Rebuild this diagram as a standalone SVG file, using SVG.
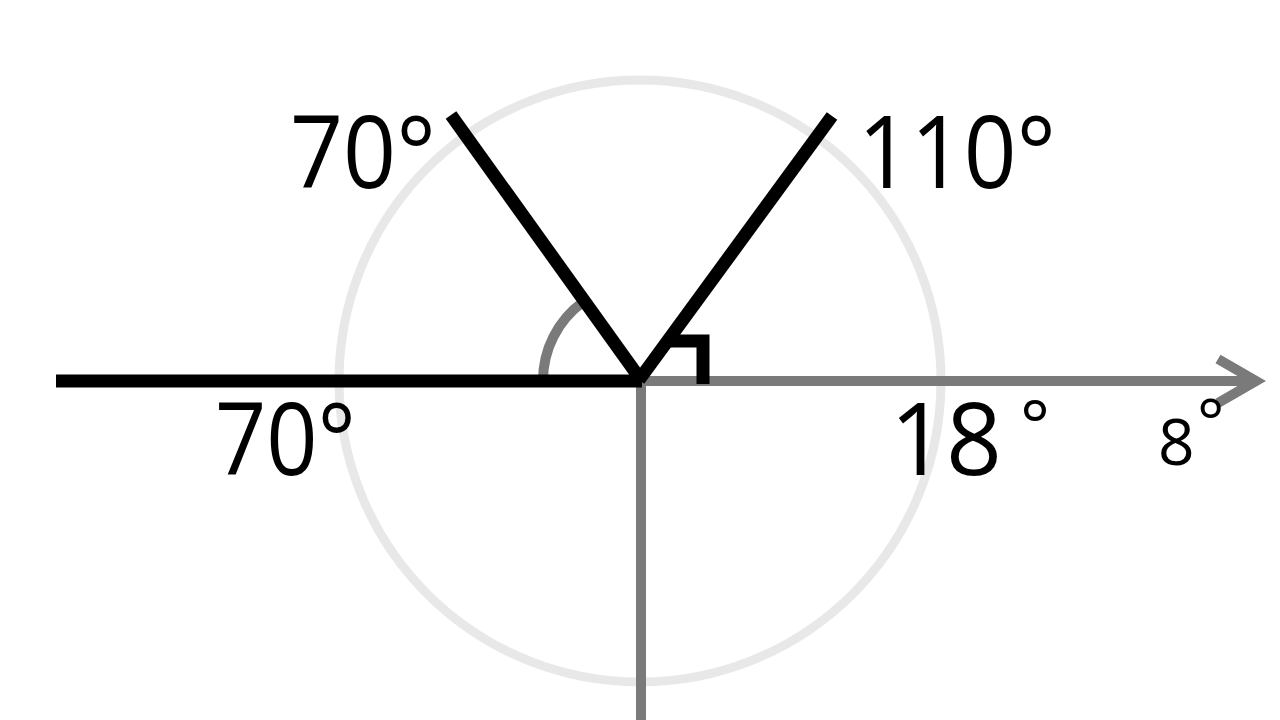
<svg xmlns="http://www.w3.org/2000/svg" width="1280" height="720" viewBox="0 0 1280 720">
<style>
.lbl{font-family:"Open Sans","Liberation Sans",sans-serif;fill:#000;font-size:100px}
.sm{font-size:64px}
.deg{font-size:70px}
.blk{stroke:#000;stroke-width:13;fill:none}
.gry{stroke:#7a7a7a;stroke-width:10;fill:none}
</style>
<rect width="1280" height="720" fill="#fff"/>
<g id="circle"><circle cx="640" cy="381" r="301" fill="none" stroke="#e8e8e8" stroke-width="9"/></g>
<g id="connectors">
<line class="gry" x1="641" y1="381" x2="641" y2="720"/>
<line class="gry" x1="640" y1="381" x2="1254" y2="381"/>
<polyline class="gry" points="1218,359 1256,381 1218,403" stroke-linejoin="miter"/>
<path class="gry" stroke-width="8" d="M543,381 A97,97 0 0 1 583,302"/>
<line class="blk" x1="56" y1="381" x2="642" y2="381"/>
<line class="blk" x1="451" y1="115" x2="641" y2="380"/>
<line class="blk" x1="832" y1="116" x2="639" y2="380"/>
<polyline class="blk" stroke-width="9" points="670,341 703,341 703,384" fill="none"/>
</g>
<g id="labels">
<text class="lbl" x="290" y="188" textLength="146" lengthAdjust="spacingAndGlyphs">70°</text>
<text class="lbl" x="858" y="188" textLength="198" lengthAdjust="spacingAndGlyphs">110°</text>
<text class="lbl" x="215" y="475" textLength="141" lengthAdjust="spacingAndGlyphs">70°</text>
<text class="lbl" x="890" y="475" textLength="112" lengthAdjust="spacingAndGlyphs">18</text>
<text class="lbl deg" x="1020" y="450">°</text>
<text class="lbl sm" x="1158" y="465">8</text>
<text class="lbl sm" x="1197" y="445">°</text>
</g>
</svg>
